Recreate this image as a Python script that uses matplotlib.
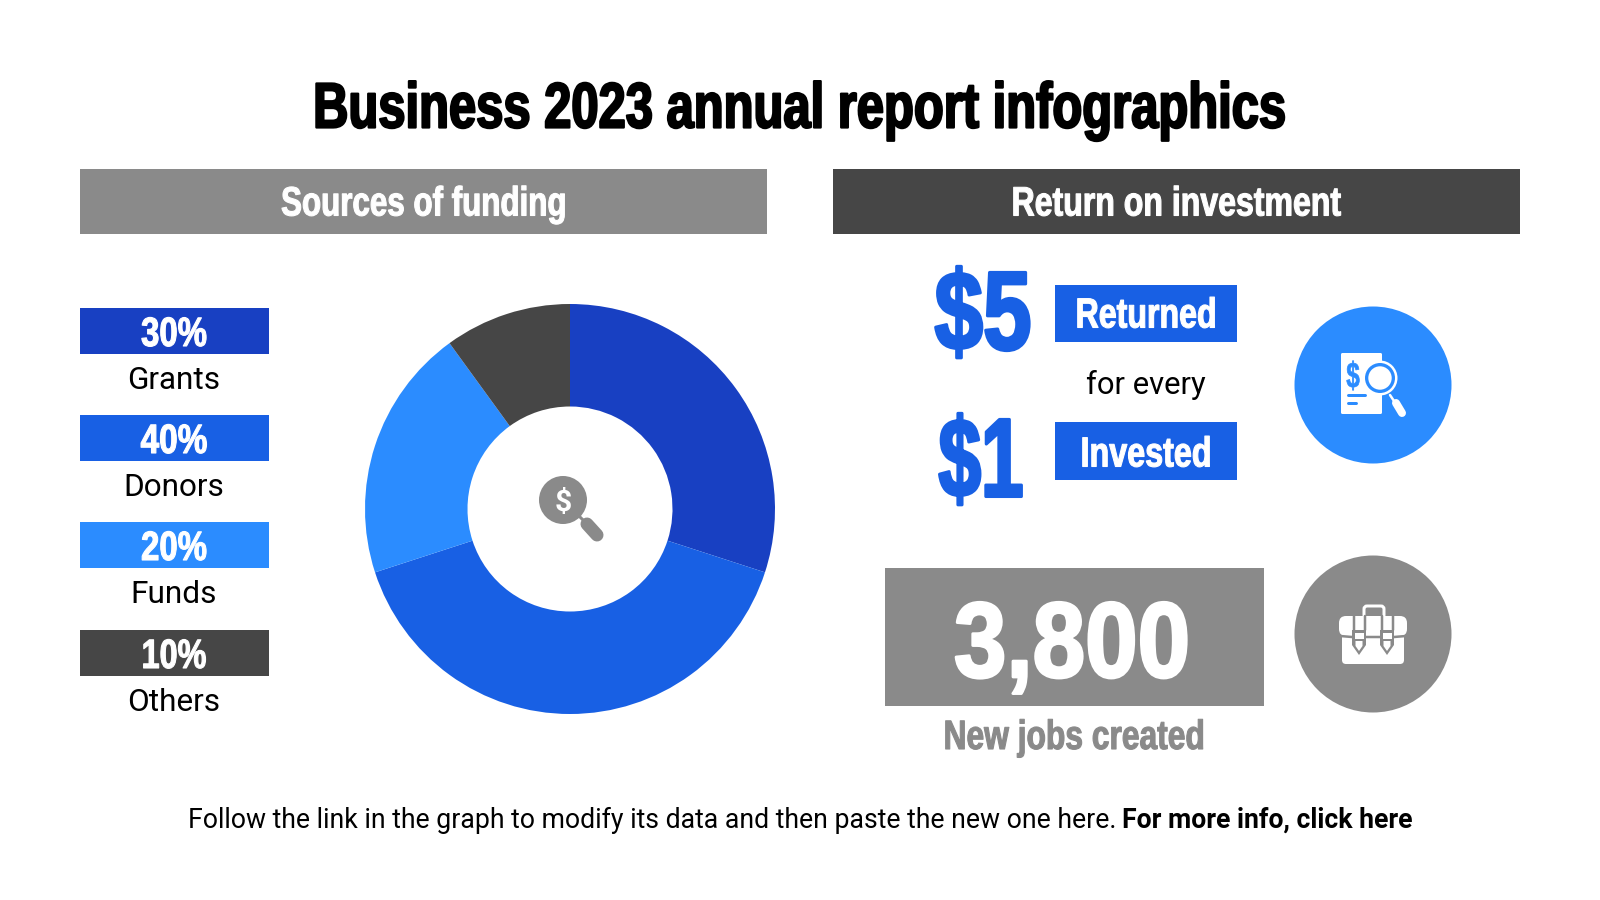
import matplotlib
matplotlib.use("Agg")
import matplotlib.pyplot as plt
import matplotlib.patheffects as pe
from matplotlib.patches import Rectangle, Circle, FancyBboxPatch
from matplotlib.transforms import Affine2D

plt.rcParams['font.family'] = ['Roboto', 'DejaVu Sans']
COND = ['Liberation Sans', 'DejaVu Sans']

DARKBLUE = '#1840C2'
BLUE = '#1860E4'
LIGHTBLUE = '#2B8CFF'
DARK = '#464646'
GREY = '#8A8A8A'

# data
categories = ['Grants', 'Donors', 'Funds', 'Others']
shares = [30, 40, 20, 10]
slice_colors = [DARKBLUE, BLUE, LIGHTBLUE, DARK]
title = 'Business 2023 annual report infographics'
left_header = 'Sources of funding'
right_header = 'Return on investment'
returned = '$5'
invested = '$1'
jobs = '3,800'
footer_plain = 'Follow the link in the graph to modify its data and then paste the new one here.'
footer_bold = 'For more info, click here'

fig = plt.figure(figsize=(16, 9), dpi=100, facecolor='white')
ax = fig.add_axes([0, 0, 1, 1])
ax.set_xlim(0, 1600)
ax.set_ylim(900, 0)
ax.axis('off')

PX = 0.72  # pixels to points at dpi 100


class Squeeze(pe.AbstractPathEffect):
    # no condensed font here, so narrow the glyphs around the text centre
    def __init__(self, cx, sx, stroke):
        super().__init__()
        self.cx, self.sx, self.stroke = cx, sx, stroke

    def draw_path(self, renderer, gc, tpath, affine, rgbFace=None):
        a = affine + Affine2D().translate(-self.cx, 0).scale(self.sx, 1).translate(self.cx, 0)
        gc0 = renderer.new_gc()
        gc0.copy_properties(gc)
        gc0.set_linewidth(self.stroke)
        gc0.set_foreground(rgbFace)
        renderer.draw_path(gc0, tpath, a, rgbFace)
        gc0.restore()


def box(x0, y0, x1, y1, color):
    ax.add_patch(Rectangle((x0, y0), x1 - x0, y1 - y0, fc=color, ec='none'))


def cond(x, y, s, px, width, color='white', stroke=0.0):
    t = ax.text(x, y, s, family=COND, weight='bold', fontsize=px * PX, color=color,
                ha='center', va='center_baseline')
    w = t.get_window_extent(fig.canvas.get_renderer()).width
    t.set_path_effects([Squeeze(x, (width - stroke / PX) / w, stroke)])
    return t


def rob(x, y, s, px, color='black', ha='center', weight='normal'):
    return ax.text(x, y, s, fontsize=px * PX, color=color, ha=ha, va='center_baseline', weight=weight)


def stroke_line(xs, ys, w, color):
    ax.plot(xs, ys, color=color, lw=w * PX, solid_capstyle='round')


# title and headers
cond(800, 104, title, 64, 976, color='black', stroke=1.6)
box(80, 169, 767, 234, GREY)
box(833, 169, 1520, 234, DARK)
cond(423.5, 200.5, left_header, 41, 286, stroke=0.8)
cond(1176, 200.5, right_header, 41, 330, stroke=0.8)

# legend
bar_tops = [308, 415, 522, 630]
pct_widths = [67, 68, 67, 66]
for cat, val, col, top, pw in zip(categories, shares, slice_colors, bar_tops, pct_widths):
    box(80, top, 269, top + 46, col)
    cond(174, top + 23, f'{val}%', 41, pw, stroke=0.8)
    rob(174, top + 69.5, cat, 31.5)

# donut
cx, cy, r = 570, 509, 205
pie_ax = fig.add_axes([(cx - r) / 1600, (900 - cy - r) / 900, 2 * r / 1600, 2 * r / 900])
pie_ax.pie(shares, colors=slice_colors, startangle=90, counterclock=False, radius=1,
           wedgeprops=dict(width=0.5, edgecolor='none'))
pie_ax.set_xlim(-1, 1)
pie_ax.set_ylim(-1, 1)

# magnifier in the hole
ax.set_zorder(pie_ax.get_zorder() + 1)
ax.patch.set_visible(False)
ax.add_patch(Circle((563, 500), 24, fc=GREY, ec='none'))
stroke_line([580, 586], [517, 523], 3, GREY)
stroke_line([587, 597], [524, 535], 13, GREY)
ax.text(563, 500, '$', weight='bold', fontsize=30 * PX,
        color='white', ha='center', va='center_baseline')

# return on investment
cond(983, 309, returned, 112, 100, color=BLUE, stroke=2.2)
cond(981, 456, invested, 112, 88, color=BLUE, stroke=2.2)
box(1055, 285, 1237, 342, BLUE)
box(1055, 422, 1237, 480, BLUE)
cond(1146, 312, 'Returned', 42, 142, stroke=0.8)
cond(1146, 451, 'Invested', 42, 132, stroke=0.8)
rob(1146, 382, 'for every', 31)

# blue circle, document with lens
ax.add_patch(Circle((1373, 385), 78.5, fc=LIGHTBLUE, ec='none'))
ax.add_patch(FancyBboxPatch((1341, 353), 41, 61, boxstyle='round,pad=0,rounding_size=1.5', fc='white', ec='none'))
cond(1353, 374, '$', 36, 14, color=LIGHTBLUE, stroke=0.5)
stroke_line([1348, 1365], [395, 395], 3, LIGHTBLUE)
stroke_line([1348, 1356], [403, 403], 3, LIGHTBLUE)
ax.add_patch(Circle((1380, 378), 17.5, fc='white', ec='none'))
ax.add_patch(Circle((1380, 378), 15, fc=LIGHTBLUE, ec='none'))
ax.add_patch(Circle((1380, 378), 11.7, fc='white', ec='none'))
stroke_line([1390, 1394], [395, 401], 2.5, 'white')
stroke_line([1396, 1402], [403, 413], 8, 'white')

# jobs
box(885, 568, 1264, 706, GREY)
cond(1072, 638, jobs, 107, 239, stroke=2.0)
cond(1074, 734, 'New jobs created', 41, 262, color=GREY, stroke=0.8)

# grey circle, briefcase
ax.add_patch(Circle((1373, 634), 78.5, fc=GREY, ec='none'))
ax.add_patch(FancyBboxPatch((1342, 628), 62, 36, boxstyle='round,pad=0,rounding_size=4', fc='white', ec='none'))
ax.add_patch(FancyBboxPatch((1339, 616), 68, 20, boxstyle='round,pad=0,rounding_size=7', fc='white', ec='none'))
ax.add_patch(FancyBboxPatch((1364, 606), 20, 12, boxstyle='round,pad=0,rounding_size=3', fc='none', ec='white', lw=3 * PX))
stroke_line([1340, 1352], [636, 637], 2.5, GREY)
stroke_line([1394, 1406], [637, 636], 2.5, GREY)
stroke_line([1366, 1380], [637, 637], 2.5, GREY)
for sx in (1359, 1387):
    stroke_line([sx - 5.5, sx - 5.5], [616, 630], 2.5, GREY)
    stroke_line([sx + 5.5, sx + 5.5], [616, 630], 2.5, GREY)
    ax.fill([sx - 7, sx + 7, sx + 7, sx, sx - 7], [630, 630, 645, 655, 645], fc=GREY, ec='none')
    box(sx - 4.5, 632.5, sx + 4.5, 638.5, 'white')
    ax.fill([sx - 3.5, sx + 3.5, sx + 3.5, sx, sx - 3.5], [641, 641, 646, 651, 646], fc='white', ec='none')

# footer
rob(1116, 817, footer_plain, 26.6, ha='right')
rob(1122, 817, footer_bold, 26.6, ha='left', weight='bold')

fig.savefig('out.png', dpi=100, facecolor='white')
